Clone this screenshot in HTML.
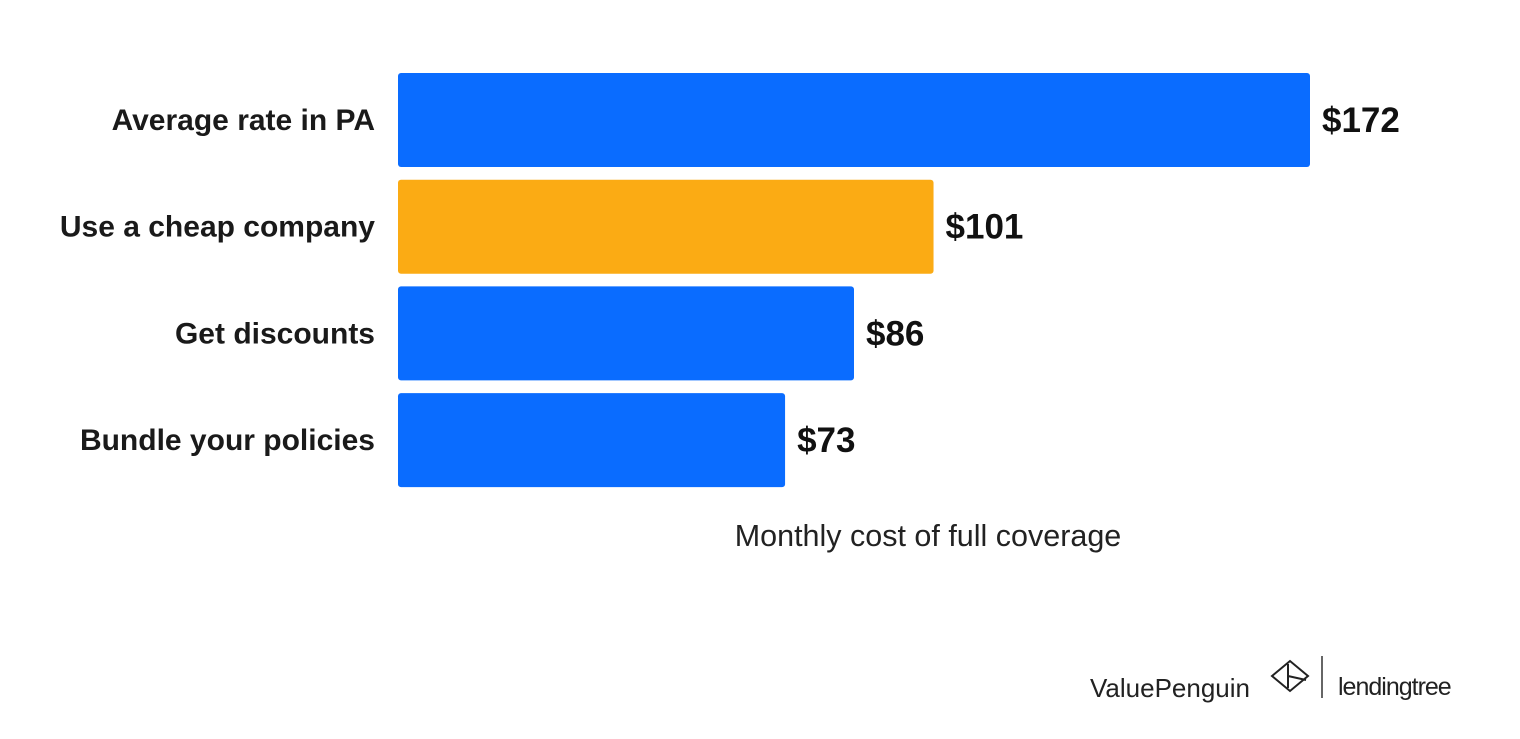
<!DOCTYPE html>
<html><head><meta charset="utf-8">
<style>
html,body{margin:0;padding:0;background:#fff;}
body{width:1520px;height:734px;overflow:hidden;font-family:"Liberation Sans",sans-serif;}
</style></head>
<body>
<svg id="chart" width="1520" height="734" xmlns="http://www.w3.org/2000/svg">
<text x="928" y="546" text-anchor="middle" font-size="30.5" fill="#222" font-family="Liberation Sans, sans-serif">Monthly cost of full coverage</text>
<g>
<text x="1090" y="697" font-size="26" fill="#222" font-family="Liberation Sans, sans-serif">ValuePenguin</text>
<g transform="translate(1290,676)" fill="none" stroke="#222" stroke-width="2">
<path d="M-18,0 L0,-15 L18,0 L0,15 Z"/><path d="M-2,-12 L-2,12 M-2,0 L16,4"/>
</g>
<line x1="1322" y1="656" x2="1322" y2="698" stroke="#333" stroke-width="1.5"/>
<text x="1338" y="695" font-size="25" fill="#222" font-family="Liberation Sans, sans-serif" letter-spacing="-1">lendingtree</text>
</g>
</svg>
<script>
const categories = ["Average rate in PA","Use a cheap company","Get discounts","Bundle your policies"];
const values = [172,101,86,73];
const valueLabels = ["$172","$101","$86","$73"];
const highlight = [false,true,false,false];

const svg = document.getElementById('chart');
const NS = 'http://www.w3.org/2000/svg';
const x0 = 398, pxPer = 912/172;
const xScale = v => x0 + v*pxPer;
const yTop = i => 73 + i*106.7;
const barH = 94;
categories.forEach((c,i)=>{
  const y = yTop(i);
  const r = document.createElementNS(NS,'rect');
  r.setAttribute('x',x0); r.setAttribute('y',y);
  r.setAttribute('width',xScale(values[i])-x0); r.setAttribute('height',barH);
  r.setAttribute('rx',3);
  r.setAttribute('fill',highlight[i]?'#fbab14':'#0a6cff');
  
  
  svg.appendChild(r);
  const l = document.createElementNS(NS,'text');
  l.setAttribute('x',375); l.setAttribute('y',y+barH/2+10);
  l.setAttribute('text-anchor','end'); l.setAttribute('font-size','30');
  l.setAttribute('font-weight','bold'); l.setAttribute('fill','#1a1a1a');
  l.textContent=c;
  
  
  svg.appendChild(l);
  const v = document.createElementNS(NS,'text');
  v.setAttribute('x',xScale(values[i])+12); v.setAttribute('y',y+barH/2+12);
  v.setAttribute('font-size','35'); v.setAttribute('font-weight','bold'); v.setAttribute('fill','#111');
  v.textContent=valueLabels[i];
  
  
  svg.appendChild(v);
});
</script>
</body></html>
